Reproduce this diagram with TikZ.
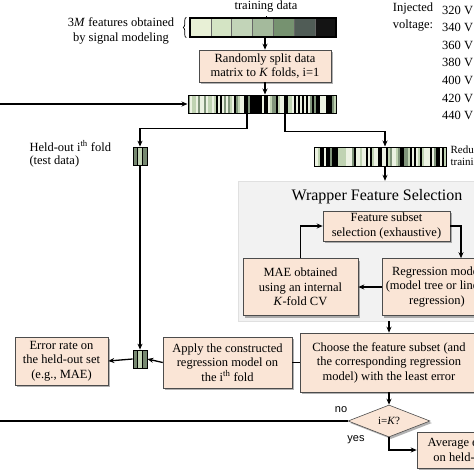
\documentclass[tikz,border=0pt]{standalone}
\usepackage{fontspec}
\setmainfont{Liberation Serif}
\setsansfont{Liberation Sans}
\usetikzlibrary{shapes.geometric,arrows.meta,shadows,decorations.pathreplacing}

\definecolor{boxfill}{RGB}{250,229,214}
\definecolor{wrapfill}{RGB}{242,242,242}
\definecolor{stripeA}{RGB}{236,242,226}
\definecolor{stripeB}{RGB}{192,211,178}
\definecolor{stripeC}{RGB}{128,148,122}
\definecolor{foldgreen}{RGB}{118,136,112}
\definecolor{cellA}{RGB}{232,240,214}
\definecolor{cellB}{RGB}{212,228,196}
\definecolor{cellC}{RGB}{194,212,184}
\definecolor{cellD}{RGB}{164,186,156}
\definecolor{cellE}{RGB}{118,146,112}
\definecolor{cellF}{RGB}{80,92,86}
\definecolor{cellG}{RGB}{20,20,20}

\begin{document}
\begin{tikzpicture}
    [x=1pt,y=-1pt,
     font=\fontsize{12.5}{14.5}\selectfont,
     boxstyle/.style={draw=black!70,line width=0.6pt,fill=boxfill,align=center,inner sep=2pt,
       drop shadow={shadow xshift=2pt,shadow yshift=-2pt,fill=black!60}},
     barstyle/.style={draw=black,line width=1pt,minimum height=18,inner sep=0},
     foldstyle/.style={draw=black,line width=0.8pt,fill=foldgreen,minimum width=14,minimum height=18,inner sep=0,
       path picture={
         \fill[stripeB] ([xshift=4.5pt]path picture bounding box.south west) rectangle ([xshift=-4.5pt]path picture bounding box.north east);
         \draw[black,line width=0.7pt] ([xshift=4.5pt]path picture bounding box.south west) -- ([xshift=4.5pt]path picture bounding box.north west)
           ([xshift=-4.5pt]path picture bounding box.south east) -- ([xshift=-4.5pt]path picture bounding box.north east);}},
     linestyle/.style={line width=1.3pt},
     arrowstyle/.style={linestyle,-{Stealth[length=6pt,width=5pt]}}]

    \useasboundingbox (0,0) rectangle (474,474);
    \clip (0,0) rectangle (474,474);

    % wrapper panel
    \node[draw=black!12,fill=wrapfill,minimum width=244,minimum height=140,inner sep=0] (wrapper) at (360,251) {};
    \node[font=\fontsize{16}{18}\selectfont] (wraptitle) at (377,197) {Wrapper Feature Selection};

    % feature matrix
    \foreach \c [count=\i from 0] in {cellA,cellB,cellC,cellD,cellE,cellF,cellG}
      \filldraw[fill=\c,draw=black!60,line width=0.5pt] (190+20.857*\i,18) rectangle ++(20.857,19);
    \node[draw=black,line width=1.5pt,minimum width=146,minimum height=19,inner sep=0] (featbar) at (263,27.5) {};
    \node (trainlbl) at (266,7) {training data};
    \node[align=center] (featlbl) at (121,31) {3\textit{M} features obtained\\by signal modeling};

    % shuffled data and reduced training data
    \pgfmathsetseed{17}
    \foreach \i in {0,...,73} {
      \pgfmathrandominteger{\k}{0}{5}
      \ifcase\k \def\sc{black}\or \def\sc{stripeA}\or \def\sc{stripeB}\or \def\sc{stripeC}\or \def\sc{black}\else \def\sc{stripeA}\fi
      \fill[\sc] (188+2*\i,95) rectangle ++(2,18);
    }
    \foreach \i in {0,...,65} {
      \pgfmathrandominteger{\k}{0}{5}
      \ifcase\k \def\sc{black}\or \def\sc{stripeA}\or \def\sc{stripeB}\or \def\sc{stripeC}\or \def\sc{black}\else \def\sc{stripeA}\fi
      \fill[\sc] (314+2*\i,147) rectangle ++(2,19);
    }
    \node[barstyle,minimum width=148] (databar) at (262,104) {};
    \node[barstyle,minimum width=132,minimum height=19] (redbar) at (380,156.5) {};
    \node[anchor=west,align=left,font=\fontsize{11}{12.5}\selectfont] (redlbl) at (447,157) {Reduced\\training data};

    % legend
    \node[align=center,font=\fontsize{12.5}{17}\selectfont] (voltlbl) at (413,17.5) {Injected\\voltage:};
    \foreach \v [count=\i from 0] in {320,340,...,440}
      \node[anchor=west,inner sep=0] (volt\v) at (442,10+17.6*\i) {\v\ V};

    % held-out folds
    \node[foldstyle] (foldtop) at (140,156) {};
    \node[foldstyle] (foldbot) at (140,359) {};
    \node[align=left,anchor=west,font=\fontsize{12.5}{13.5}\selectfont] (heldlbl) at (26,154) {Held-out i\textsuperscript{th} fold\\(test data)};

    % boxes
    \node[boxstyle,minimum width=132,minimum height=32] (split) at (265,66) {Randomly split data\\matrix to \textit{K} folds, i=1};
    \node[boxstyle,minimum width=127,minimum height=28] (subset) at (386.5,226) {Feature subset\\selection (exhaustive)};
    \node[boxstyle,minimum width=110,minimum height=57] (regr) at (437,287) {Regression model\\(model tree or linear\\regression)};
    \node[boxstyle,minimum width=115,minimum height=57] (mae) at (300.5,287) {MAE obtained\\using an internal\\\textit{K}-fold CV};
    \node[boxstyle,minimum width=178,minimum height=59] (choose) at (389,362.5) {Choose the feature subset (and\\the corresponding regression\\model) with the least error};
    \node[boxstyle,minimum width=129,minimum height=51] (apply) at (227.5,362.5) {Apply the constructed\\regression model on\\the i\textsuperscript{th} fold};
    \node[boxstyle,minimum width=93,minimum height=48] (error) at (61.5,361) {Error rate on\\the held-out set\\(e.g., MAE)};
    \node[boxstyle,minimum width=112,minimum height=36] (average) at (473,450) {Average error rate\\on held-out sets};
    \node[boxstyle,diamond,aspect=2.5,minimum width=82,minimum height=32,inner sep=0.5pt,font=\fontsize{11}{13}\selectfont] (check) at (389,421) {i=\textit{K}?};
    \node[font=\sffamily\fontsize{11}{13}\selectfont] (nolbl) at (341,410) {no};
    \node[font=\sffamily\fontsize{11}{13}\selectfont] (yeslbl) at (356,440) {yes};

    \coordinate (loopin) at (-5,104);
    \coordinate (loopout) at (-5,421);

    % connectors
    \draw[line width=0.6pt] (trainlbl.south) -- (trainlbl.south |- featbar.north);
    \draw[decorate,decoration={brace,amplitude=3pt},line width=0.7pt] ([xshift=-3pt]featbar.south west) -- ([xshift=-3pt]featbar.north west);
    \draw[arrowstyle] (split.north |- featbar.south) -- (split.north);
    \draw[arrowstyle] (split.south) -- (split.south |- databar.north);
    \draw[arrowstyle] (loopin) -- (databar.west);
    \draw[arrowstyle] ([xshift=-15pt]databar.south) -- ++(0,15) -| (foldtop.north);
    \draw[arrowstyle] ([xshift=23pt]databar.south) -- ++(0,18) -| ([xshift=5pt]redbar.north);
    \draw[arrowstyle] ([xshift=5pt]redbar.south) -- ([xshift=5pt]redbar.south |- wrapper.north);
    \draw[arrowstyle] (subset.east) -| ([xshift=24pt]regr.north);
    \draw[arrowstyle] (regr.west) -- (mae.east);
    \draw[arrowstyle] (mae.north) |- (subset.west);
    \draw[arrowstyle] (choose.north |- wrapper.south) -- (choose.north);
    \draw[linestyle] (choose.west) -- (apply.east);
    \draw[arrowstyle] (apply.west) -- (foldbot.east);
    \draw[arrowstyle] (foldtop.south) -- (foldbot.north);
    \draw[arrowstyle] (foldbot.west) -- (error.east);
    \draw[arrowstyle] (choose.south) -- (check.north);
    \draw[linestyle] (check.west) -- (loopout);
    \draw[arrowstyle] (check.south) |- (average.west);
\end{tikzpicture}
\end{document}
